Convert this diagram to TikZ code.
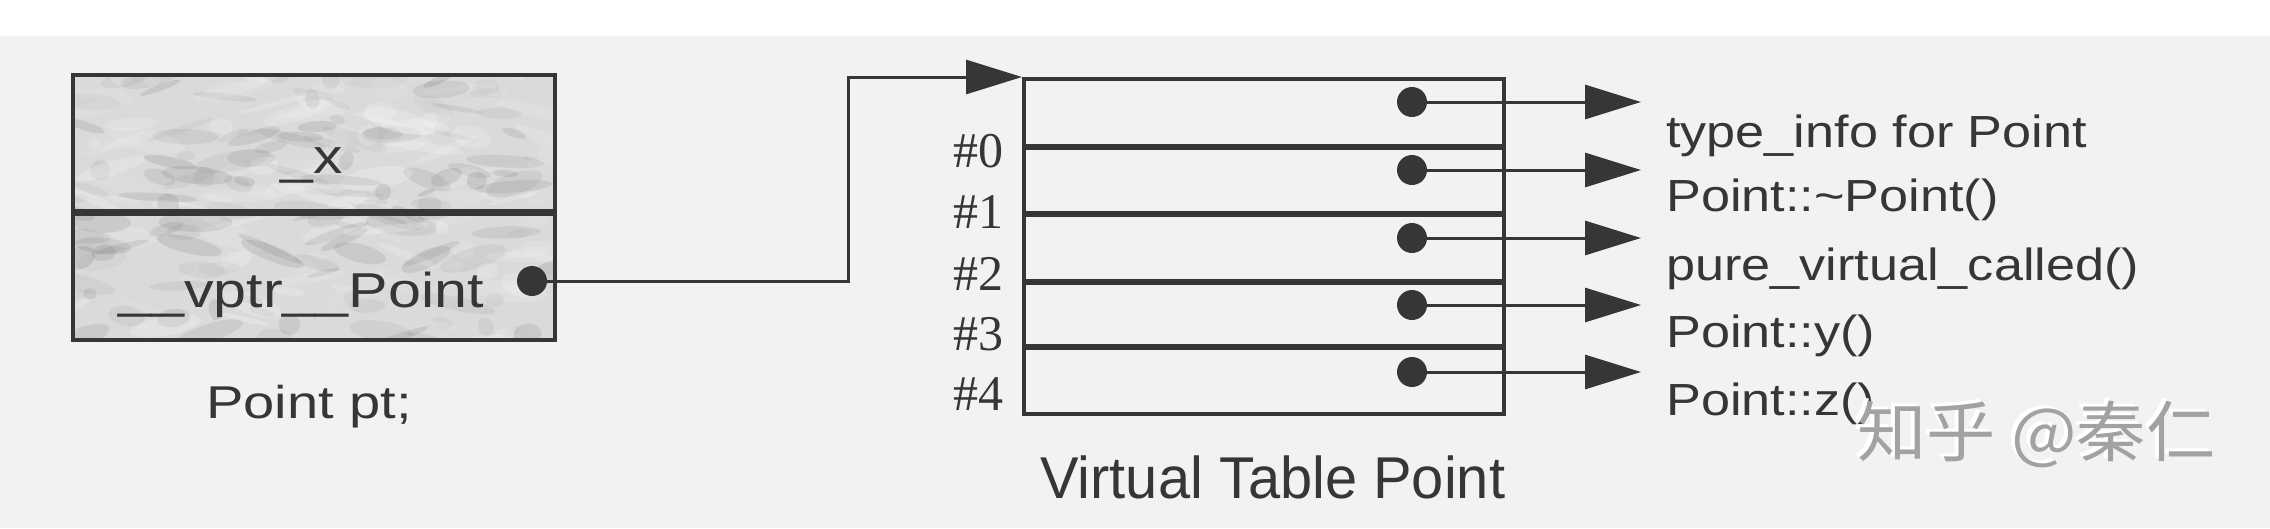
\documentclass[tikz,border=0pt]{standalone}
\usepackage{fontspec}
\usepackage{graphicx}
\setmainfont{Liberation Sans}
\newfontfamily\timesf{Liberation Serif}
\newfontfamily\cjk{Noto Sans CJK SC}
\usetikzlibrary{arrows.meta}
\definecolor{bgcol}{HTML}{F2F2F2}
\definecolor{ink}{HTML}{363636}
\definecolor{boxfill}{HTML}{DADADA}
\definecolor{wm}{HTML}{A2A2A2}
\begin{document}
\begin{tikzpicture}[x=1pt,y=-1pt,
  lbl/.style={inner sep=0pt, text=ink},
  dotn/.style={circle, fill=ink, inner sep=0pt, minimum size=30pt},
  ptr/.style={draw=ink, line width=3pt, -{Triangle[length=56pt,width=34pt]}},
  rowline/.style={draw=ink, line width=6pt},
  frame/.style={draw=ink, line width=3.5pt},
]
\useasboundingbox (0,0) rectangle (2270,528);
\fill[white] (0,0) rectangle (2270,36);
\fill[bgcol] (0,36) rectangle (2270,528);

% ---------- object box ----------
\node[fill=boxfill, minimum width=482pt, minimum height=265pt, inner sep=0pt, anchor=north west] (obj) at (73,75) {};
\begin{scope}
  \clip (obj.north west) rectangle (obj.south east);
  \pgfmathsetseed{11}
  \foreach \i in {1,...,260}{
    \pgfmathsetmacro\rx{73+482*rnd}
    \pgfmathsetmacro\ry{75+265*rnd}
    \pgfmathsetmacro\rw{6+34*rnd}
    \pgfmathsetmacro\rh{2+9*rnd}
    \pgfmathsetmacro\op{0.06+0.16*rnd}
    \pgfmathsetmacro\rot{-25+50*rnd}
    \ifodd\i \def\cc{white}\else\def\cc{gray}\fi
    \fill[\cc, opacity=\op, rotate around={\rot:(\rx,\ry)}] (\rx,\ry) ellipse [x radius=\rw pt, y radius=\rh pt];
  }
\end{scope}
\draw[frame, line width=4pt] (obj.north west) rectangle (obj.south east);
\draw[draw=ink, line width=7pt] (obj.west |- 0,212) -- (obj.east |- 0,212);

\node[lbl, anchor=base, font=\fontsize{49}{58}\selectfont] (fx) at (312,173) {\scalebox{1.2}[1]{\_x}};
\node[lbl, anchor=base west, font=\fontsize{49}{58}\selectfont] (fv) at (118,307) {\scalebox{1.21}[1]{\_\_vptr\_\_Point}};
\node[lbl, anchor=base west, font=\fontsize{46}{55}\selectfont] (cap1) at (206,418) {\scalebox{1.22}[1]{Point pt;}};

% ---------- virtual table ----------
\node[frame, minimum width=480pt, minimum height=335pt, inner sep=0pt, anchor=north west] (vt) at (1022,77) {};
\foreach \yy in {147,214,282,347}
  \draw[rowline] (vt.west |- 0,\yy) -- (vt.east |- 0,\yy);

\foreach \k/\yy in {0/167,1/228,2/290,3/350,4/410}
  \node[lbl, anchor=base east, font=\timesf\fontsize{50}{60}\selectfont] (idx\k) at (1004,\yy) {\#\k};

\node[lbl, anchor=base west, font=\fontsize{59}{70}\selectfont] (cap2) at (1040,498) {\scalebox{0.98}[1]{Virtual Table Point}};

% ---------- pointer from object ----------
\node[dotn] (vdot) at (532,281) {};
\coordinate (bend) at (848,0);
\draw[ptr] (vdot.center) -- (vdot.center -| bend) |- (vt.north west);

% ---------- slot pointers ----------
\foreach \k/\yy in {0/102,1/170,2/238,3/305,4/372}{
  \node[dotn] (d\k) at (1412,\yy) {};
  \coordinate (t\k) at (1641,\yy);
  \draw[ptr] (d\k.center) -- (t\k);
}

\node[lbl, anchor=base west, font=\fontsize{45}{54}\selectfont] (f0) at (1666,147) {\scalebox{1.16}[1]{type\_info for Point}};
\node[lbl, anchor=base west, font=\fontsize{45}{54}\selectfont] (f1) at (1666,211) {\scalebox{1.16}[1]{Point::\textasciitilde Point()}};
\node[lbl, anchor=base west, font=\fontsize{45}{54}\selectfont] (f2) at (1666,280) {\scalebox{1.16}[1]{pure\_virtual\_called()}};
\node[lbl, anchor=base west, font=\fontsize{45}{54}\selectfont] (f3) at (1666,347) {\scalebox{1.16}[1]{Point::y()}};
\node[lbl, anchor=base west, font=\fontsize{45}{54}\selectfont] (f4) at (1666,415) {\scalebox{1.16}[1]{Point::z()}};

% ---------- watermark ----------
\node[anchor=base west, inner sep=0pt, font=\cjk\fontsize{66}{72}\selectfont, text=white] (wm0) at (1853,453) {\scalebox{1.05}[1]{知乎 @秦仁}};
\node[anchor=base west, inner sep=0pt, font=\cjk\fontsize{66}{72}\selectfont, text=wm] (wm1) at (1857,456) {\scalebox{1.05}[1]{知乎 @秦仁}};
\end{tikzpicture}
\end{document}
